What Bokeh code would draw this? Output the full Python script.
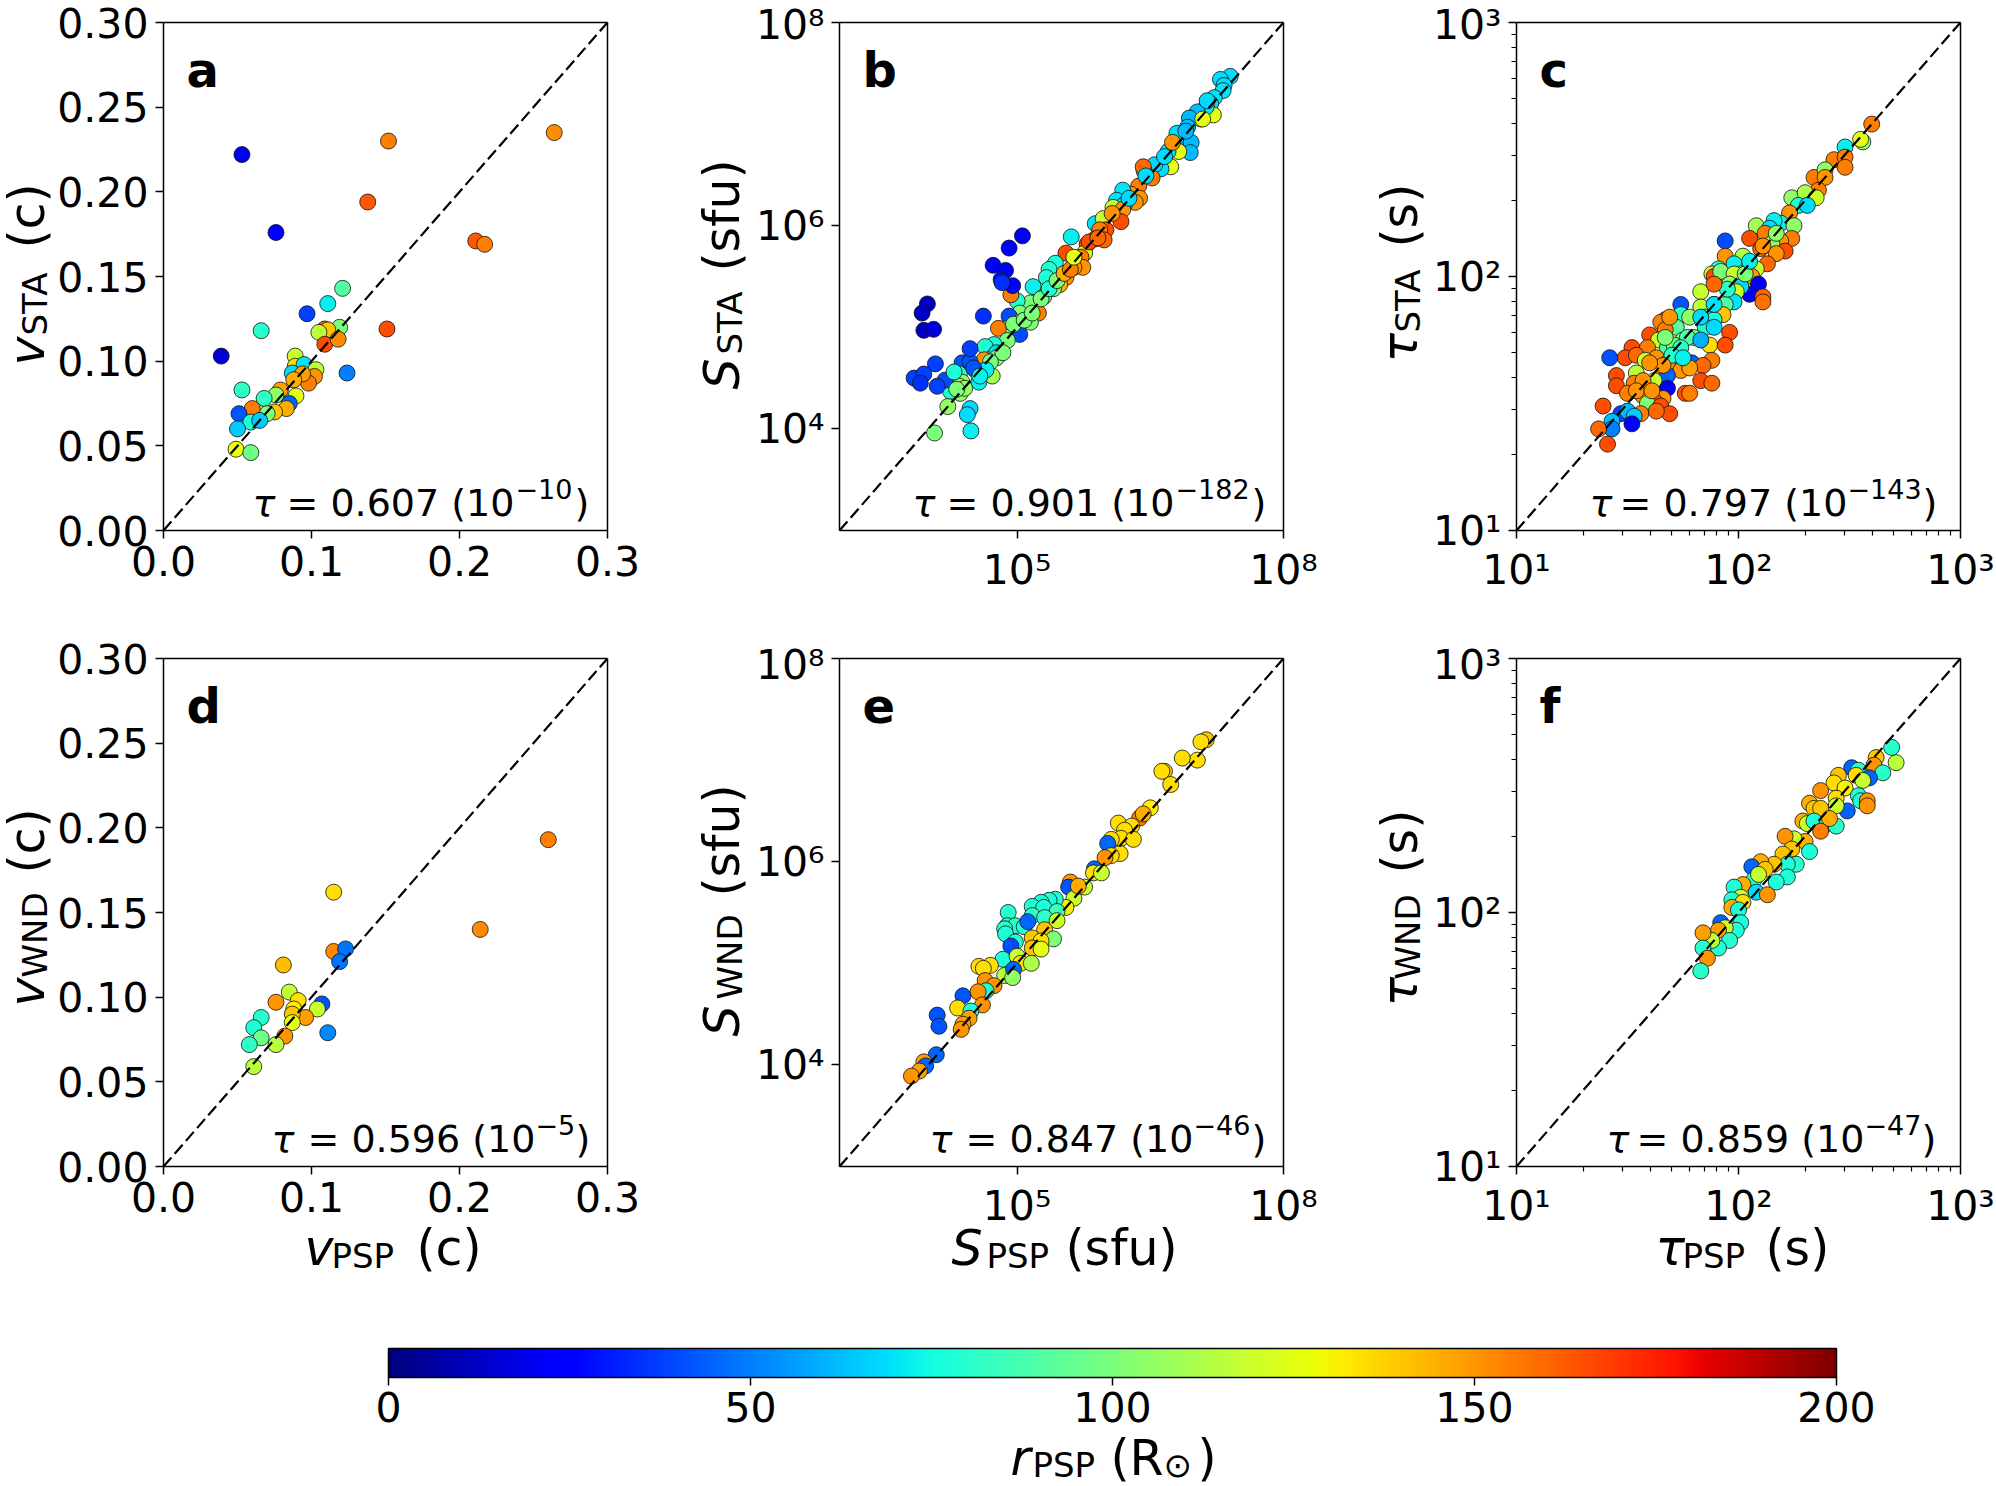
import numpy as np
from bokeh.embed import file_html
from bokeh.layouts import column, row
from bokeh.models import ColorBar, ColumnDataSource, FixedTicker, Label, LinearAxis, LinearColorMapper, LogAxis, Range1d
from bokeh.plotting import figure
from bokeh.resources import INLINE

# ---------- data (panels a,d linear; b,c,e,f as log10 values) ----------
a_x = [0.264,0.152,0.138,0.211,0.217,0.151,0.053,0.076,0.039,0.097,0.124,0.121,0.111,0.066,0.053,0.119,0.109,0.111,0.105,0.109,0.118,0.089,0.089,0.095,0.103,0.087,0.102,0.098,0.094,0.088,0.079,0.076,0.068,0.0895,0.085,0.083,0.075,0.070,0.060,0.051,0.059,0.065,0.050,0.049,0.059]
a_y = [0.235,0.230,0.194,0.171,0.169,0.119,0.222,0.176,0.103,0.128,0.093,0.143,0.134,0.118,0.083,0.120,0.119,0.1185,0.117,0.110,0.113,0.103,0.097,0.098,0.095,0.093,0.091,0.087,0.0925,0.089,0.083,0.080,0.078,0.0795,0.075,0.072,0.070,0.069,0.072,0.069,0.064,0.065,0.060,0.048,0.046]
a_r = [152,155,163,163,155,165,20,25,15,38,50,90,72,80,82,100,160,140,115,165,152,118,135,70,115,68,150,155,148,145,148,105,82,125,45,145,140,100,155,42,78,65,65,128,97]

b_x = [7.40,7.29,7.33,7.32,7.22,7.18,7.21,7.13,7.07,7.03,
       6.94,6.92,6.85,6.80,7.09,6.96,6.95,6.82,6.70,6.75,
       6.73,6.62,6.55,6.43,6.42,6.52,6.37,6.28,6.38,6.19,
       6.12,6.33,6.21,6.08,6.19,5.88,5.97,6.17,6.00,5.93,
       5.88,5.98,5.79,5.61,5.76,5.72,5.55,5.74,5.64,5.43,
       5.36,5.33,5.55,5.48,5.41,5.18,5.30,5.15,5.00,4.93,
       5.24,5.03,4.91,5.15,5.03,4.90,5.03,4.79,4.89,4.74,
       4.64,4.72,4.63,4.77,4.62,4.72,4.54,4.57,4.38,4.47,
       4.47,4.08,4.62,4.35,4.38,4.35,4.36,4.25,4.22,4.19,
       4.10,3.84,3.95,3.91,4.47,4.44,4.48,4.07,5.06,4.91,
       4.73,4.87,4.82,4.95,4.83,3.99,3.93,3.95,4.06,
       4.77,4.84,4.70,4.65,4.51,4.58,4.29,4.41,4.32,4.96,
       5.08,5.17,5.27,5.36,5.45,5.53,5.60,5.64,5.81,5.91,
       6.07,6.26,6.45,6.66,6.90,7.14]
b_y = [7.47,7.44,7.38,7.33,7.26,7.20,7.09,7.17,7.05,7.12,
       7.06,6.97,6.88,6.91,7.05,6.82,6.72,6.73,6.73,6.82,
       6.58,6.56,6.60,6.54,6.58,6.47,6.39,6.31,6.27,6.35,
       6.25,6.23,6.21,6.18,6.16,6.02,6.07,6.04,5.96,5.96,
       5.87,5.86,5.82,5.89,5.73,5.69,5.73,5.59,5.59,5.63,
       5.57,5.49,5.49,5.42,5.38,5.40,5.30,5.24,5.26,5.32,
       5.14,5.14,5.11,5.05,5.05,4.99,4.93,4.99,4.87,4.83,
       4.81,4.70,4.68,4.75,4.55,4.52,4.57,4.46,4.65,4.66,
       4.79,4.64,5.11,4.54,4.46,4.42,4.35,4.37,4.22,4.48,
       4.42,4.50,4.54,4.45,4.20,4.14,3.98,3.96,5.90,5.78,
       5.61,5.56,5.47,5.41,5.44,5.23,5.14,4.97,4.98,
       4.70,4.75,4.66,4.58,4.60,4.52,4.56,4.40,4.39,5.03,
       5.07,5.14,5.28,5.38,5.46,5.53,5.57,5.69,5.84,5.88,
       6.12,6.27,6.49,6.68,6.93,7.23]
b_r = [68,68,68,70,70,68,125,70,130,62,
       62,62,62,68,125,62,62,125,68,150,
       125,68,68,68,160,155,155,150,150,70,
       70,150,68,118,150,70,118,165,165,155,
       165,160,160,72,125,155,165,150,150,78,
       78,78,150,145,100,72,100,100,78,155,
       155,100,40,100,100,100,40,155,100,78,
       78,100,150,70,68,110,100,72,42,42,
       38,38,35,82,105,110,105,78,105,40,
       38,38,38,35,68,68,72,100,22,22,
       25,22,28,25,35,12,12,12,15,
       100,100,100,72,42,72,78,105,100,100,
       100,100,100,78,100,145,155,125,165,160,
       150,68,68,68,62,68]

c_x = [2.60,2.56,2.55,2.48,2.43,2.48,2.48,2.34,2.39,2.39,
       2.36,2.24,2.30,2.35,2.27,2.31,2.23,2.19,2.16,2.25,
       2.08,2.14,2.12,1.94,2.05,2.24,2.19,2.15,2.10,2.21,
       2.17,2.02,1.94,2.13,1.98,1.91,1.88,1.89,1.92,2.01,
       1.98,2.08,2.06,2.09,1.96,2.05,2.01,1.99,1.83,2.11,
       2.11,1.98,1.89,1.94,1.74,1.74,1.83,1.78,1.85,1.93,
       1.67,1.89,1.85,1.65,1.72,1.67,1.60,1.96,1.80,1.64,
       1.75,1.87,1.94,1.52,1.59,1.68,1.71,1.63,1.49,1.54,
       1.42,1.58,1.74,1.79,1.88,1.68,1.84,1.74,1.78,1.54,
       1.45,1.66,1.68,1.62,1.53,1.83,1.45,1.88,1.68,1.50,
       1.57,1.66,1.76,1.78,1.62,1.59,1.65,1.39,1.69,1.63,
       1.56,1.47,1.50,1.53,1.52,1.43,1.43,1.37,1.41,
       1.83,1.89,1.95,2.03,1.77,1.74,1.70,1.66,1.60,1.57,
       1.54,1.61,1.69,1.89,2.11,2.17,2.05,1.89,1.83,1.75,1.67]
c_y = [2.60,2.53,2.54,2.51,2.46,2.47,2.43,2.39,2.42,2.39,
       2.34,2.31,2.33,2.31,2.28,2.28,2.25,2.21,2.22,2.20,
       2.20,2.19,2.17,2.14,2.15,2.15,2.14,2.13,2.11,2.10,
       2.09,2.08,2.08,2.05,2.05,2.03,2.01,2.00,2.02,2.01,
       2.01,2.03,2.00,1.97,1.97,1.93,1.96,1.94,1.94,1.92,
       1.90,1.90,1.89,1.89,1.89,1.85,1.88,1.84,1.84,1.85,
       1.83,1.83,1.80,1.82,1.80,1.79,1.77,1.78,1.76,1.75,
       1.75,1.73,1.73,1.72,1.72,1.72,1.73,1.68,1.68,1.69,
       1.68,1.67,1.67,1.66,1.67,1.66,1.65,1.63,1.64,1.62,
       1.61,1.61,1.61,1.59,1.58,1.59,1.57,1.58,1.56,1.54,
       1.53,1.52,1.54,1.54,1.51,1.50,1.49,1.49,1.46,1.47,
       1.46,1.46,1.47,1.45,1.42,1.43,1.40,1.40,1.34,
       1.84,1.89,1.95,2.01,1.76,1.72,1.69,1.65,1.66,1.59,
       1.55,1.55,1.84,1.97,2.12,2.17,2.06,1.80,1.75,1.68,1.76]
c_r = [155,105,125,72,155,155,155,155,105,150,
       155,105,112,120,78,68,150,72,72,105,
       110,68,155,40,165,155,150,105,160,165,
       150,112,150,160,72,78,118,165,100,118,
       118,118,150,22,105,25,68,120,118,160,
       158,70,165,90,42,82,115,105,90,140,
       150,75,78,155,92,155,165,165,100,118,
       100,135,165,165,155,90,100,150,165,160,
       42,118,72,45,155,150,160,150,148,115,
       165,150,45,118,155,165,165,160,22,155,
       150,150,165,155,165,100,165,165,165,160,
       155,38,62,65,22,62,50,160,165,
       68,70,80,100,90,80,80,150,150,150,
       150,150,150,160,150,105,72,68,60,72,100]

d_x = [0.260,0.214,0.115,0.115,0.123,0.119,0.081,0.076,0.085,0.091,0.107,0.104,0.088,0.096,0.087,0.087,0.111,0.082,0.066,0.061,0.066,0.058,0.076,0.061]
d_y = [0.193,0.140,0.162,0.127,0.1285,0.121,0.119,0.097,0.103,0.098,0.096,0.093,0.093,0.088,0.090,0.085,0.079,0.077,0.088,0.082,0.076,0.072,0.072,0.059]
d_r = [155,153,135,153,48,48,142,150,117,135,42,118,132,148,140,125,52,150,80,78,97,82,115,115]

e_x = [7.13,7.07,7.03,6.86,6.66,6.63,6.73,6.50,6.38,6.42,
       6.14,6.29,6.21,6.17,6.31,6.06,6.02,6.16,6.06,5.99,
       5.87,5.86,5.95,5.60,5.58,5.76,5.64,5.69,5.55,5.43,
       5.36,5.27,5.17,5.30,5.45,5.17,5.31,5.45,4.90,4.89,
       4.98,5.08,4.86,5.12,5.31,4.87,5.17,5.41,4.98,4.93,
       5.27,5.17,5.27,4.84,5.00,5.04,5.16,4.70,4.57,4.62,
       4.86,4.96,4.95,4.64,4.74,4.65,4.56,4.61,4.39,4.33,
       4.48,4.46,4.39,4.37,4.10,4.12,4.09,3.95,3.97,3.90,3.81]
e_y = [7.20,7.18,7.00,7.02,6.89,6.89,6.76,6.53,6.43,6.47,
       6.38,6.35,6.31,6.23,6.22,6.22,6.18,6.08,6.06,6.04,
       5.93,5.89,5.89,5.80,5.75,5.75,5.64,5.76,5.55,5.63,
       5.62,5.60,5.56,5.55,5.51,5.47,5.45,5.42,5.50,5.37,
       5.37,5.36,5.34,5.41,5.33,5.29,5.25,5.24,5.21,5.17,
       5.22,5.15,5.14,5.04,5.07,5.00,5.00,4.98,4.97,4.95,
       4.88,4.94,4.86,4.83,4.78,4.73,4.72,4.59,4.68,4.56,
       4.53,4.46,4.40,4.35,4.49,4.38,4.10,4.03,3.99,3.94,3.89]
e_r = [140,135,135,135,140,135,135,132,155,145,
       135,135,135,135,135,135,45,135,135,150,
       45,135,118,150,42,118,118,145,130,78,
       78,78,78,78,85,82,82,120,80,80,
       80,80,80,45,140,78,140,100,78,40,
       135,140,125,78,118,135,112,135,135,135,
       115,45,105,150,150,78,150,150,42,135,
       78,148,148,150,42,42,45,148,45,148,150]

f_x = [2.71,2.69,2.62,2.61,2.65,2.51,2.54,2.59,2.53,2.56,
       2.45,2.43,2.37,2.48,2.44,2.54,2.55,2.58,2.58,2.49,
       2.44,2.32,2.34,2.37,2.29,2.31,2.34,2.40,2.44,2.41,
       2.37,2.30,2.25,2.21,2.24,2.20,2.32,2.26,2.22,2.16,
       2.10,2.06,2.12,2.22,2.17,2.07,2.09,2.02,2.08,2.13,
       1.98,2.01,1.97,2.02,1.97,2.00,2.01,1.92,1.99,1.94,
       1.91,1.96,1.91,1.88,1.84,1.84,1.86,1.83]
f_y = [2.59,2.65,2.61,2.58,2.55,2.57,2.56,2.53,2.54,2.52,
       2.54,2.51,2.48,2.49,2.45,2.46,2.44,2.44,2.42,2.40,
       2.42,2.43,2.41,2.41,2.36,2.35,2.36,2.35,2.34,2.37,
       2.32,2.28,2.29,2.30,2.25,2.23,2.24,2.19,2.19,2.19,
       2.20,2.18,2.17,2.14,2.12,2.13,2.15,2.11,2.08,2.07,
       2.10,2.06,2.05,2.04,2.02,2.01,1.96,1.96,1.93,1.94,
       1.93,1.89,1.86,1.89,1.92,1.86,1.82,1.77]
f_r = [115,80,140,150,80,45,80,45,135,118,
       140,135,150,130,135,78,78,150,150,45,
       118,145,140,140,145,118,78,80,80,145,
       155,145,118,150,140,140,78,80,78,140,
       145,45,140,78,78,78,118,145,68,150,
       78,118,78,135,145,78,78,45,78,118,
       148,80,78,115,148,80,150,80]

lin_x_ticks = [0.0, 0.1, 0.2, 0.3]
lin_x_labels = ["0.0", "0.1", "0.2", "0.3"]
lin_y_ticks = [0.0, 0.05, 0.10, 0.15, 0.20, 0.25, 0.30]
lin_y_labels = ["0.00", "0.05", "0.10", "0.15", "0.20", "0.25", "0.30"]
cb_ticks = [0, 50, 100, 150, 200]

# ---------- colours: the standard jet colormap ----------
def jet_channel(t, pts):
    return np.interp(t, [p[0] for p in pts], [p[1] for p in pts])
T = np.linspace(0, 1, 256)
R = jet_channel(T, [(0, 0), (0.35, 0), (0.66, 1), (0.89, 1), (1, 0.5)])
G = jet_channel(T, [(0, 0), (0.125, 0), (0.375, 1), (0.64, 1), (0.91, 0), (1, 0)])
B = jet_channel(T, [(0, 0.5), (0.11, 1), (0.34, 1), (0.65, 0), (1, 0)])
JET = ["#%02x%02x%02x" % (int(r * 255), int(g * 255), int(b * 255)) for r, g, b in zip(R, G, B)]
mapper = LinearColorMapper(palette=JET, low=0, high=200)

FONT = "DejaVu Sans"
TICK = "41px"
BIG = "49px"
SUB = "34px"
OFF = 14

def to_data(g, px, py):
    fx = (px - g["left"]) / (g["right"] - g["left"])
    fy = (g["bottom"] - py) / (g["bottom"] - g["top"])
    if g["logs"]:
        a, b = np.log10(g["lo"]), np.log10(g["hi"])
        return 10 ** (a + fx * (b - a)), 10 ** (a + fy * (b - a))
    return g["lo"] + fx * (g["hi"] - g["lo"]), g["lo"] + fy * (g["hi"] - g["lo"])

def panel(left, top, fig_left, fig_top, fig_w, fig_h, logs, lo, hi):
    # the frame fills the whole figure so that outer labels are visible; axes sit at fixed locations
    right, bottom = left + 444, top + 508
    g = dict(left=left, right=right, top=top, bottom=bottom, logs=logs, lo=lo, hi=hi)
    x0, y1 = to_data(g, fig_left, fig_top)
    x1, y0 = to_data(g, fig_left + fig_w, fig_top + fig_h)
    kw = dict(x_axis_type="log", y_axis_type="log") if logs else {}
    p = figure(width=fig_w, height=fig_h, output_backend="svg", toolbar_location=None,
               x_range=Range1d(x0, x1), y_range=Range1d(y0, y1),
               min_border=0, **kw)
    p.grid.visible = False
    p.outline_line_color = None
    for ax in (p.below[0], p.left[0]):
        ax.major_label_text_font = FONT
        ax.major_label_text_font_size = TICK
        ax.major_label_text_color = "black"
        ax.major_tick_in = 0
        ax.major_tick_out = 8
        ax.minor_tick_in = 0
        ax.minor_tick_out = 0
        ax.axis_line_width = 1.5
        ax.major_tick_line_width = 1.5
        ax.major_label_standoff = 7
        ax.fixed_location = lo
        ax.bounds = (lo, hi)
    Axis = LogAxis if logs else LinearAxis
    for side in ("above", "right"):
        spine = Axis(fixed_location=hi, bounds=(lo, hi), ticker=FixedTicker(ticks=[]), axis_line_width=1.5,
                     major_tick_line_color=None, minor_tick_line_color=None, major_label_text_color=None)
        p.add_layout(spine, side)
    return p, g

def put(p, g, px, py, text, size, style="normal", angle=0.0, align="left"):
    if angle:
        px -= OFF
    else:
        py -= OFF
    x, y = to_data(g, px, py)
    p.add_layout(Label(x=x, y=y, text=text, text_font=FONT, text_font_size=size, text_font_style=style,
                       text_color="black", angle=angle, angle_units="rad", text_align=align,
                       text_baseline="alphabetic"))

def scatter(p, x, y, r, lo, hi, logs):
    xv = 10 ** np.array(x) if logs else np.array(x)
    yv = 10 ** np.array(y) if logs else np.array(y)
    src = ColumnDataSource(dict(x=xv, y=yv, r=r))
    p.scatter("x", "y", source=src, size=16, marker="circle",
              fill_color={"field": "r", "transform": mapper}, line_color="#111111", line_width=0.8)
    p.line([lo, hi], [lo, hi], line_color="black", line_width=2.2, line_dash=[12, 5])

UP = np.pi / 2

def decorate(p, g, letter, tau_x, eq_x, text, sup_x, sup, close_x):
    base = g["bottom"] - 14
    put(p, g, g["left"] + 23, g["top"] + 61, letter, "48px", "bold")
    put(p, g, tau_x, base, "τ", "38px", "italic")
    put(p, g, eq_x, base, text, "38px")
    put(p, g, sup_x, base - 14, sup, "27px")
    put(p, g, close_x, base, ")", "38px")

def ylab(p, g, base, sym, sym_y, sub, sub_y, unit, unit_y):
    put(p, g, base, sym_y, sym, BIG, "italic", UP)
    put(p, g, base + 7, sub_y, sub, SUB, "normal", UP)
    put(p, g, base, unit_y, unit, BIG, "normal", UP)

def xlab(p, g, base, sym, sym_x, sub, sub_x, unit, unit_x):
    put(p, g, sym_x, base, sym, BIG, "italic")
    put(p, g, sub_x, base + 7, sub, SUB)
    put(p, g, unit_x, base, unit, BIG)

def lin_axes(p):
    p.below[0].ticker = FixedTicker(ticks=lin_x_ticks)
    p.below[0].major_label_overrides = dict(zip(lin_x_ticks, lin_x_labels))
    p.left[0].ticker = FixedTicker(ticks=lin_y_ticks)
    p.left[0].major_label_overrides = dict(zip(lin_y_ticks, lin_y_labels))

S_X = {100000: "10⁵", 100000000: "10⁸"}
S_Y = {10000: "10⁴", 1000000: "10⁶", 100000000: "10⁸"}
def sfu_axes(p):
    p.below[0].ticker = FixedTicker(ticks=list(S_X))
    p.below[0].major_label_overrides = S_X
    p.left[0].ticker = FixedTicker(ticks=list(S_Y))
    p.left[0].major_label_overrides = S_Y

T_L = {10: "10¹", 100: "10²", 1000: "10³"}
T_MINOR = [m * d for d in (10, 100) for m in range(2, 10)]
def tau_axes(p):
    for ax in (p.below[0], p.left[0]):
        ax.ticker = FixedTicker(ticks=list(T_L), minor_ticks=T_MINOR)
        ax.major_label_overrides = T_L
        ax.minor_tick_out = 5
        ax.minor_tick_line_width = 1.2

# ---------- row 1 ----------
H1, H2 = 640, 645
pa, ga = panel(163, 22, 0, 0, 660, H1, False, 0.0, 0.3)
lin_axes(pa); scatter(pa, a_x, a_y, a_r, 0.0, 0.3, False)
decorate(pa, ga, "a", 252, 286, "= 0.607 (10", 515, "−10", 574)
ylab(pa, ga, 41, "v", 365, "STA", 335, "(c)", 248)

pb, gb = panel(839, 22, 660, 0, 676, H1, True, 1e3, 1e8)
sfu_axes(pb); scatter(pb, b_x, b_y, b_r, 1e3, 1e8, True)
decorate(pb, gb, "b", 912, 946, "= 0.901 (10", 1175, "−182", 1251)
ylab(pb, gb, 736, "S", 389, "STA", 354, "(sfu)", 271)

pc, gc = panel(1516, 22, 1336, 0, 660, H1, True, 10, 1000)
tau_axes(pc); scatter(pc, c_x, c_y, c_r, 10, 1000, True)
decorate(pc, gc, "c", 1589, 1619, "= 0.797 (10", 1847, "−143", 1922)
ylab(pc, gc, 1414, "τ", 362, "STA", 332, "(s)", 247)

# ---------- row 2 ----------
pd_, gd = panel(163, 658, 0, 640, 660, H2, False, 0.0, 0.3)
lin_axes(pd_); scatter(pd_, d_x, d_y, d_r, 0.0, 0.3, False)
decorate(pd_, gd, "d", 271, 307, "= 0.596 (10", 535, "−5", 575)
ylab(pd_, gd, 41, "v", 1006, "WND", 977, "(c)", 873)
xlab(pd_, gd, 1262, "v", 304, "PSP", 331, "(c)", 416)

pe, ge = panel(839, 658, 660, 640, 676, H2, True, 1e3, 1e8)
sfu_axes(pe); scatter(pe, e_x, e_y, e_r, 1e3, 1e8, True)
decorate(pe, ge, "e", 929, 965, "= 0.847 (10", 1193, "−46", 1251)
ylab(pe, ge, 736, "S", 1036, "WND", 999, "(sfu)", 896)
xlab(pe, ge, 1262, "S", 951, "PSP", 986, "(sfu)", 1065)

pf, gf = panel(1516, 658, 1336, 640, 660, H2, True, 10, 1000)
tau_axes(pf); scatter(pf, f_x, f_y, f_r, 10, 1000, True)
decorate(pf, gf, "f", 1606, 1636, "= 0.859 (10", 1864, "−47", 1921)
ylab(pf, gf, 1414, "τ", 1006, "WND", 979, "(s)", 873)
xlab(pf, gf, 1262, "τ", 1655, "PSP", 1682, "(s)", 1765)

# ---------- colour bar ----------
cb_top, cb_bottom = 1348, 1486
pcb = figure(width=1996, height=201, output_backend="svg", toolbar_location=None,
             x_range=Range1d(388, 1836), y_range=Range1d(cb_bottom, cb_top),
             min_border_left=388, min_border_right=160, min_border_top=63, min_border_bottom=0)
pcb.axis.visible = False
pcb.grid.visible = False
pcb.outline_line_color = None
bar = ColorBar(color_mapper=mapper, location="top_left", orientation="horizontal", width=1448, height=29,
               padding=0, margin=0,
               ticker=FixedTicker(ticks=cb_ticks), major_label_text_font=FONT,
               major_label_text_font_size=TICK, major_label_text_color="black",
               major_tick_in=0, major_tick_out=8, major_tick_line_color="black", major_tick_line_width=1.5,
               label_standoff=6, bar_line_color="black", bar_line_width=1.5,
               border_line_color=None, background_fill_color=None)
pcb.add_layout(bar, "center")
def cb_put(px, py, text, size, style="normal"):
    pcb.add_layout(Label(x=px, y=py - OFF, text=text, text_font=FONT, text_font_size=size, text_font_style=style,
                         text_color="black", text_baseline="alphabetic"))
cb_put(1010, 1472, "r", BIG, "italic")
cb_put(1032, 1478, "PSP", SUB)
cb_put(1110, 1472, "(R", BIG)
cb_put(1163, 1478, "⊙", SUB)
cb_put(1197, 1472, ")", BIG)

page = column(row(pa, pb, pc), row(pd_, pe, pf), pcb)
open("out.html", "w").write(file_html(page, INLINE))
